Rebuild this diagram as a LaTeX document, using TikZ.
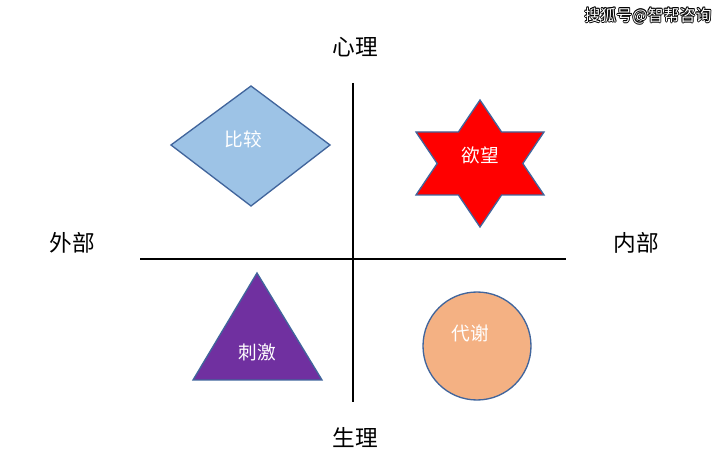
\documentclass[tikz,border=0pt]{standalone}
\usepackage{fontspec}
\setmainfont{Noto Sans CJK SC}
\usetikzlibrary{positioning}

\definecolor{edgeblue}{HTML}{41659C}
\definecolor{diamondblue}{HTML}{9DC3E6}
\definecolor{starred}{HTML}{FF0000}
\definecolor{triviolet}{HTML}{7030A0}
\definecolor{circpeach}{HTML}{F4B183}

\tikzset{
  axis/.style={line width=1.6pt,black},
  shapeline/.style={draw=edgeblue,line width=1pt,line join=miter},
  sidelabel/.style={font=\fontsize{17}{17}\selectfont,text=black,inner sep=0pt},
  innerlabel/.style={font=\fontsize{14}{14}\selectfont,text=white,inner sep=0pt},
  watermark/.style={font=\fontsize{12}{12}\selectfont,inner sep=0pt}
}

\begin{document}
\begin{tikzpicture}[x=0.75pt,y=-0.75pt]
                \useasboundingbox (0,0) rectangle (725,466);
                % axes
                \coordinate (top) at (353,83);
                \coordinate (bottom) at (353,402);
                \coordinate (left) at (140,259);
                \coordinate (right) at (566,259);
                \draw[axis] (top) -- (bottom);
                \draw[axis] (left) -- (right);
                % axis labels
                \node[sidelabel] (psych) at (355,47) {心理};
                \node[sidelabel] (phys) at (355,438) {生理};
                \node[sidelabel] (outer) at (72,243) {外部};
                \node[sidelabel] (inner) at (636,243) {内部};
                % upper left: diamond
                \draw[shapeline,fill=diamondblue]
                (171,145) -- (251,86) -- (330,145) -- (251,206) -- cycle;
                \node[innerlabel] (compare) at (243,139) {比较};
                % upper right: star
                \draw[shapeline,fill=starred]
                (480,100) -- (501.6,132) -- (544,132) -- (522.8,163.5)
                -- (544,195) -- (501.6,195) -- (480,227) -- (458.4,195)
                -- (416,195) -- (437.2,163.5) -- (416,132) -- (458.4,132) -- cycle;
                \node[innerlabel] (desire) at (480,155) {欲望};
                % lower left: triangle
                \draw[shapeline,fill=triviolet]
                (257,273) -- (322,380) -- (193,380) -- cycle;
                \node[innerlabel] (stimulus) at (257,352) {刺激};
                % lower right: circle
                \draw[shapeline,fill=circpeach] (477,346) circle (54);
                \node[innerlabel] (metabolism) at (470,333) {代谢};
                % watermark
                \foreach \dx/\dy in {-0.8/0,0.8/0,0/-0.8,0/0.8,-0.6/-0.6,0.6/0.6,-0.6/0.6,0.6/-0.6}
                  \node[watermark,text=black] at (648+\dx,16+\dy) {搜狐号@智帮咨询};
                \node[watermark,text=white] (source) at (648,16) {搜狐号@智帮咨询};
            \end{tikzpicture}
\end{document}
